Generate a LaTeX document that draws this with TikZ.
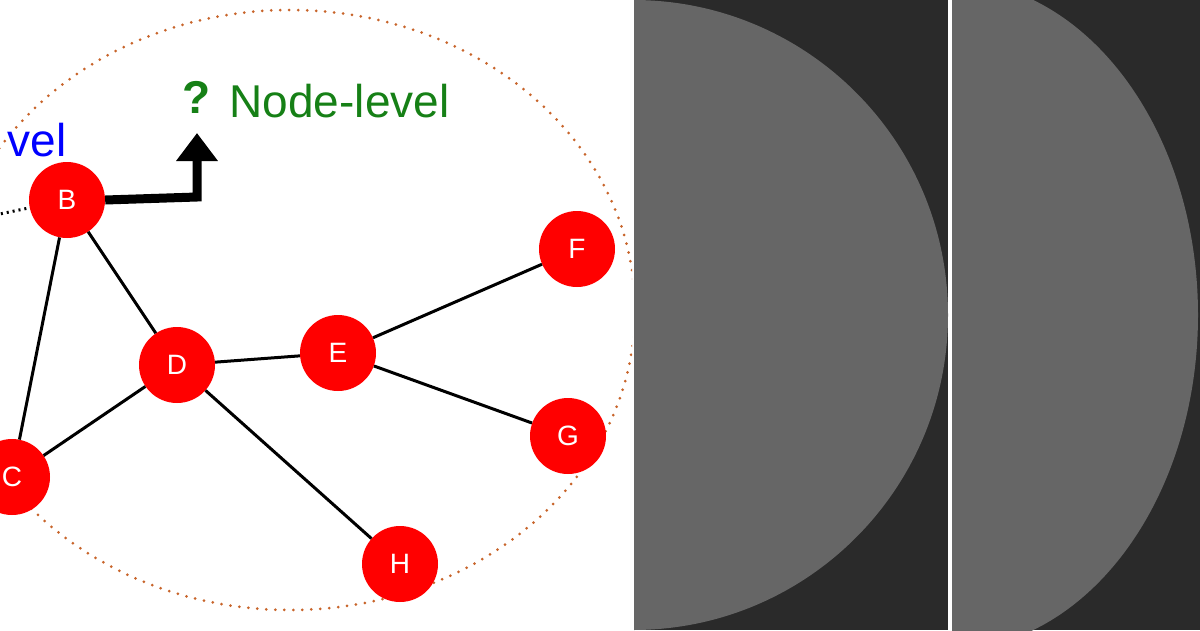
\documentclass[tikz,border=0pt]{standalone}
\usepackage{fontspec}
\setmainfont{Liberation Sans}
\usetikzlibrary{arrows.meta}
\definecolor{dk}{HTML}{2A2A2A}
\definecolor{lg}{HTML}{666666}
\definecolor{dotc}{HTML}{C8642A}
\definecolor{gr}{HTML}{168016}
\begin{document}
\begin{tikzpicture}[x=1pt,y=-1pt,
  vtx/.style={circle,fill=red,minimum size=76pt,inner sep=0pt,text=white,font=\fontsize{28}{30}\selectfont},
  edge/.style={line width=3pt}]
\useasboundingbox (0,0) rectangle (1200,630);
\fill[white] (0,0) rectangle (1200,630);
% right panels
\fill[dk] (634,0) rectangle (948,630);
\fill[dk] (952,0) rectangle (1200,630);
\begin{scope}
\clip (634,0) rectangle (948,630);
\fill[lg] (633,315) circle[radius=315];
\end{scope}
\begin{scope}
\clip (952,0) rectangle (1200,630);
\fill[lg] (948,315) ellipse[x radius=250,y radius=335];
\end{scope}
% left panel
\begin{scope}
\clip (0,0) rectangle (632,630);
\draw[dotc,line width=3pt,dash pattern=on 0pt off 9pt,line cap=round] (290,310) ellipse[x radius=345,y radius=300];
\node[vtx] (B) at (67,200) {B};
\node[vtx] (C) at (12,477) {C};
\node[vtx] (D) at (177,365) {D};
\node[vtx] (E) at (338,353) {E};
\node[vtx] (F) at (577,249) {F};
\node[vtx] (G) at (568,436) {G};
\node[vtx] (H) at (400,564) {H};
\begin{scope}[on background layer/.style={}]
\end{scope}
\coordinate (L) at (-5,215);
\draw[line width=3pt,dash pattern=on 2pt off 4pt] (L) -- (B);
\draw[edge] (B) -- (C); \draw[edge] (B) -- (D); \draw[edge] (C) -- (D);
\draw[edge] (D) -- (E); \draw[edge] (D) -- (H); \draw[edge] (E) -- (F); \draw[edge] (E) -- (G);
\coordinate (T) at (197,133);
\draw[line width=9pt,-{Triangle[length=28pt,width=40pt]}] (B.east) -- (197,197) -- (T);
\node[text=gr,font=\fontsize{46}{48}\bfseries\selectfont] (q) at (197,97) {?};
\node[text=gr,font=\fontsize{46}{48}\selectfont,anchor=west] (nl) at (226,101) {Node-level};
\node[text=blue,font=\fontsize{46}{48}\selectfont,anchor=east] (vl) at (70,140) {vel};
\end{scope}
\end{tikzpicture}
\end{document}
